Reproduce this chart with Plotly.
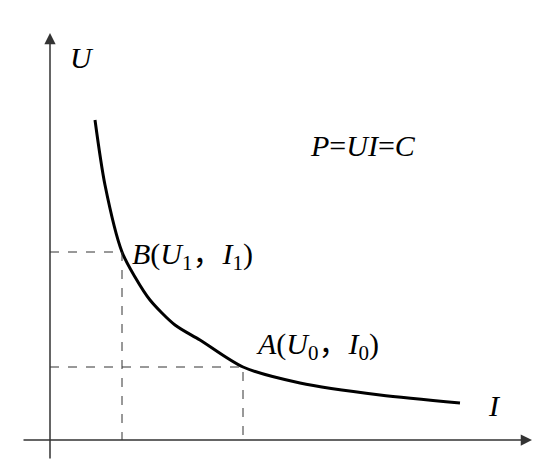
import plotly.graph_objects as go

# curve points (x ~ I, y ~ U in drawing units)
I_vals = [45, 55, 72, 85, 100, 125, 150, 193, 250, 330, 410]
U_vals = [320, 255, 188, 163, 140, 115, 100, 73, 57, 45, 37]
B_pt = (72, 188)
A_pt = (193, 73)

serif = "Liberation Serif"
fig = go.Figure()
fig.add_trace(go.Scatter(x=I_vals, y=U_vals, mode="lines",
                         line=dict(color="black", width=3, shape="spline", smoothing=0.8),
                         hoverinfo="skip"))
for (px, py) in [B_pt, A_pt]:
    fig.add_trace(go.Scatter(x=[0, px, px], y=[py, py, 0], mode="lines",
                             line=dict(color="#333", width=1, dash="dash"), hoverinfo="skip"))

ann = []
ann.append(dict(x=482, y=0, ax=-28, ay=0, xref="x", yref="y", axref="x", ayref="y",
                showarrow=True, arrowhead=2, arrowsize=1.5, arrowwidth=1.5, arrowcolor="#333", text=""))
ann.append(dict(x=0, y=407, ax=0, ay=-20, xref="x", yref="y", axref="x", ayref="y",
                showarrow=True, arrowhead=2, arrowsize=1.5, arrowwidth=1.5, arrowcolor="#333", text=""))
comma = "<span style='font-family:Noto Sans CJK SC'>，</span>"
def lab(x, y, t, anchor="left"):
    ann.append(dict(x=x, y=y, text=t, showarrow=False, xanchor=anchor, yanchor="middle",
                    font=dict(family=serif, size=30, color="black")))
lab(18, 383, "<i>U</i>")
lab(436, 35, "<i>I</i>")
lab(258, 295, "<i>P</i>=<i>UI</i>=<i>C</i>")
lab(80, 188, "<i>B</i>(<i>U</i><sub>1</sub>" + comma + "<i>I</i><sub>1</sub>)")
lab(204, 98, "<i>A</i>(<i>U</i><sub>0</sub>" + comma + "<i>I</i><sub>0</sub>)")

fig.update_layout(width=550, height=466, margin=dict(l=0, r=0, t=0, b=0),
                  plot_bgcolor="white", paper_bgcolor="white", showlegend=False,
                  annotations=ann,
                  xaxis=dict(range=[-42, 508], visible=False),
                  yaxis=dict(range=[-34, 432], visible=False))
fig.write_html("out.html")
